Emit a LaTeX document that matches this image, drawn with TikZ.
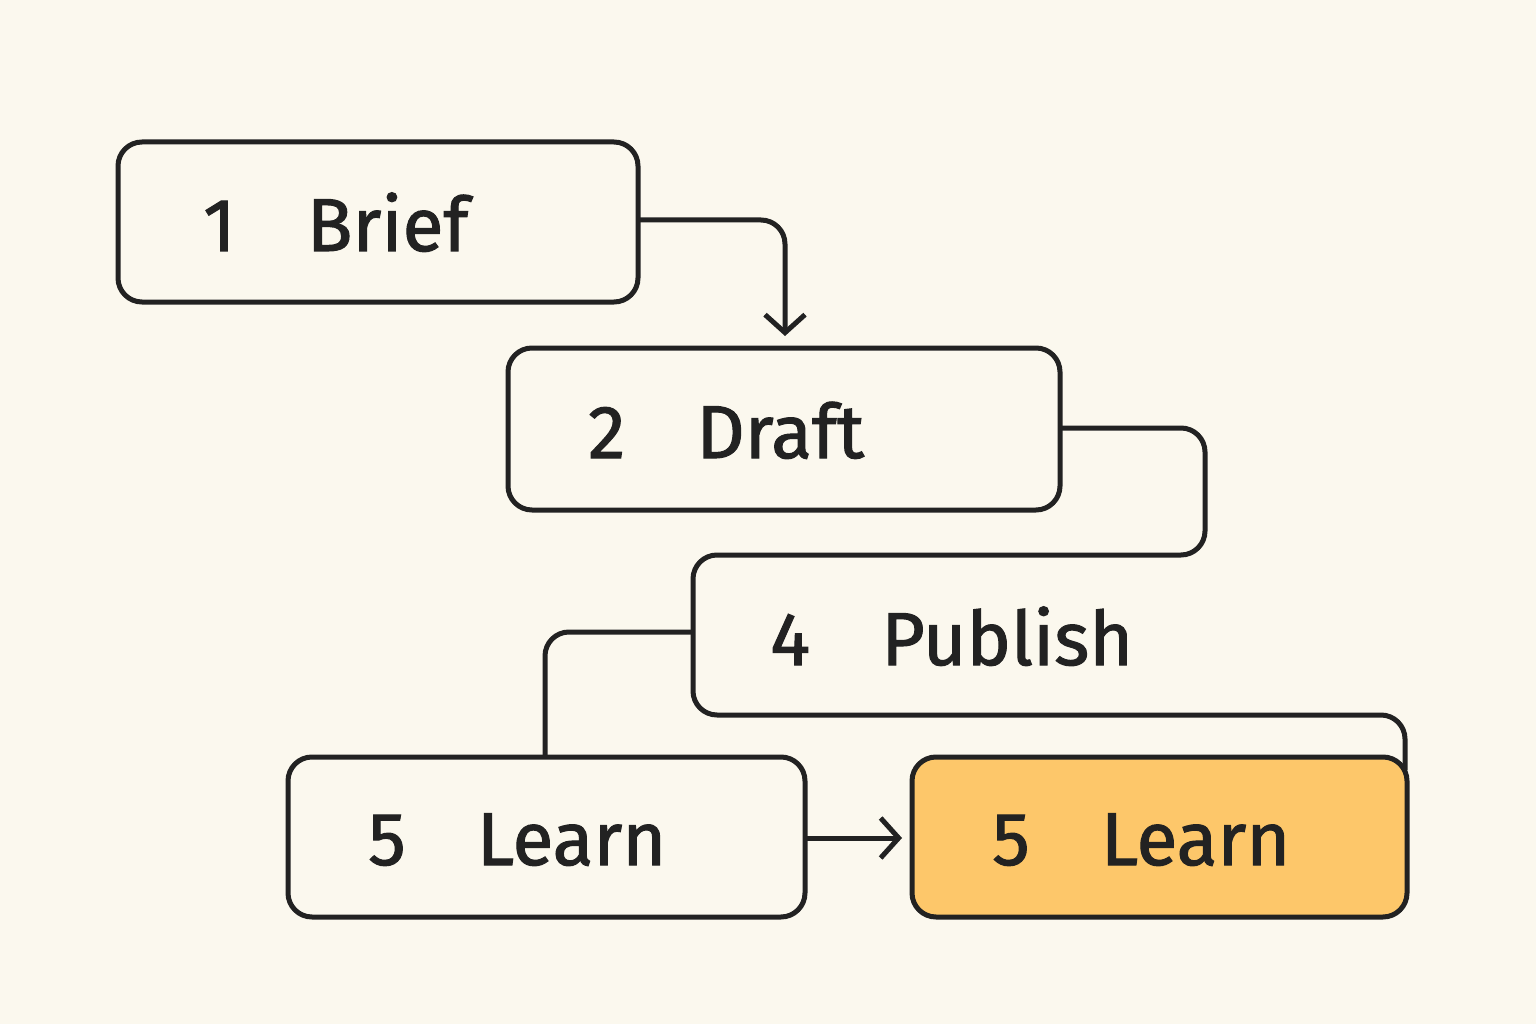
\documentclass[tikz,border=0pt]{standalone}
\usepackage{fontspec}
\setmainfont{Fira Sans}
\usetikzlibrary{arrows.meta}
\definecolor{bg}{HTML}{FBF8EE}
\definecolor{ink}{HTML}{222222}
\definecolor{org}{HTML}{FDC76A}
\begin{document}
\begin{tikzpicture}[x=1pt,y=-1pt,
  box/.style={draw=ink,line width=5pt,rounded corners=24pt},
  lbl/.style={anchor=base west,inner sep=0,font=\fontsize{75}{75}\selectfont\addfontfeature{FakeBold=1.4},text=ink},
  conn/.style={draw=ink,line width=5pt,rounded corners=24pt},
  tip/.style={-{Straight Barb[length=18pt,width=40pt,line width=5pt]}}]
\fill[bg] (0,0) rectangle (1536,1024);
\draw[box] (118,142) rectangle (638,302);
\draw[box] (508,348) rectangle (1060,510);
\draw[box] (288,757) rectangle (805,917);
\draw[box,fill=org] (912,757) rectangle (1407,917);
% Draft -> Publish outline
\draw[conn] (1060,428) -- (1205,428) -- (1205,555) -- (693,555) -- (693,715) -- (1405,715) -- (1405,770);
% Brief -> Draft
\draw[conn,tip] (638,220) -- (785,220) -- (785,336);
% Publish -> Learn
\draw[conn] (693,632) -- (545,632) -- (545,757);
% Learn -> Learn
\draw[draw=ink,line width=5pt,tip] (805,838) -- (902,838);
\node[lbl] (t1) at (203,251) {1\hspace{0.95em}Brief};
\node[lbl] (t2) at (588,458) {2\hspace{0.95em}Draft};
\node[lbl] (t4) at (770,665) {4\hspace{0.95em}Publish};
\node[lbl] (t5) at (368,865) {5\hspace{0.95em}Learn};
\node[lbl] (t6) at (992,865) {5\hspace{0.95em}Learn};
\end{tikzpicture}
\end{document}
